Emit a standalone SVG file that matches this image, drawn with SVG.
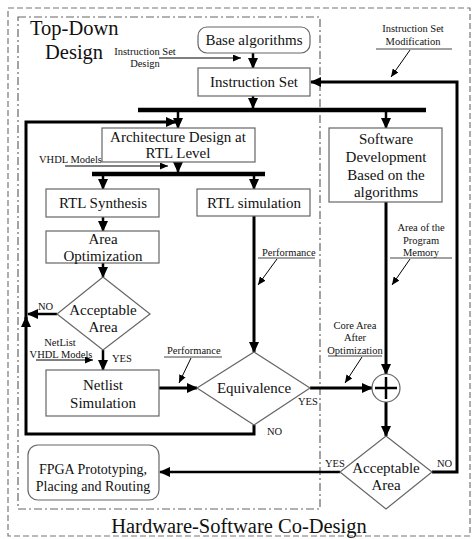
<svg xmlns="http://www.w3.org/2000/svg" width="474" height="539" viewBox="0 0 474 539">
<defs>
<style>
text{font-family:"Liberation Serif","Times New Roman",serif;fill:#111}
.box{fill:#fff;stroke:#666;stroke-width:1.2}
.t15{font-size:15px;text-anchor:middle}
.t14{font-size:14px;text-anchor:middle}
.big{font-size:20.5px}
.sm{font-size:10.5px}
.smc{font-size:10.5px;text-anchor:middle}
.thick{fill:none;stroke:#000;stroke-width:3}
.med{fill:none;stroke:#000;stroke-width:2.5}
.thin{fill:none;stroke:#000;stroke-width:1}
.ul{fill:none;stroke:#444;stroke-width:1}
.bus{fill:none;stroke:#000;stroke-width:4.5}
</style>
<marker id="ah" markerUnits="userSpaceOnUse" markerWidth="11" markerHeight="10" refX="10" refY="5" orient="auto"><path d="M0,0 L11,5 L0,10 z" fill="#000"/></marker>
<marker id="as" markerUnits="userSpaceOnUse" markerWidth="8" markerHeight="7" refX="8" refY="3.5" orient="auto"><path d="M0,0 L8,3.5 L0,7 z" fill="#000"/></marker>
</defs>
<rect x="8" y="8" width="462" height="528" fill="none" stroke="#777" stroke-width="1.2" stroke-dasharray="6 3"/>
<rect x="18" y="17" width="302" height="492" fill="none" stroke="#666" stroke-width="1.2" stroke-dasharray="8 3 2 3"/>
<text class="big" x="30" y="35">Top-Down</text>
<text class="big" x="45" y="59">Design</text>
<text class="big" x="239" y="533" text-anchor="middle">Hardware-Software Co-Design</text>

<g id="connectors">
<path class="bus" d="M138,110 H426"/>
<path class="bus" d="M92,174 H265"/>
<path class="med" d="M253,53 V68" marker-end="url(#ah)"/>
<path class="med" d="M253,96 V108" marker-end="url(#ah)"/>
<path class="med" d="M386,112 V128" marker-end="url(#ah)"/>
<path class="med" d="M178,112 V128" marker-end="url(#ah)"/>
<path class="med" d="M178,162 V172" marker-end="url(#ah)"/>
<path class="med" d="M103,176 V189" marker-end="url(#ah)"/>
<path class="med" d="M254,176 V189" marker-end="url(#ah)"/>
<path class="med" d="M103,217 V231" marker-end="url(#ah)"/>
<path class="med" d="M103,263 V277" marker-end="url(#ah)"/>
<path class="med" d="M103,350 V370" marker-end="url(#ah)"/>
<path class="med" d="M57,314 H28" marker-end="url(#ah)"/>
<path class="thick" d="M254,425 V434 H26 V317" marker-end="url(#ah)"/>
<path class="thick" d="M26,319 V122 H176" marker-end="url(#ah)"/>
<path class="thick" d="M432,472 H457 V82 H311" marker-end="url(#ah)"/>
<path class="thick" d="M254,216 V352" marker-end="url(#ah)"/>
<path class="thick" d="M386,202 V374" marker-end="url(#ah)"/>
<path class="thick" d="M159,388 H197" marker-end="url(#ah)"/>
<path class="thick" d="M310,388 H372" marker-end="url(#ah)"/>
<path class="thick" d="M386,402 V436" marker-end="url(#ah)"/>
<path class="med" d="M340,472 H160" marker-end="url(#ah)"/>
<path class="thin" d="M159,58 H241" marker-end="url(#as)"/>
<path class="ul" d="M376,49 H452"/>
<path class="thin" d="M410,50 L391,77" marker-end="url(#as)"/>
<path class="thin" d="M65,166 H168" marker-end="url(#as)"/>
<path class="thin" d="M36,360 H93" marker-end="url(#as)"/>
<path class="ul" d="M164,357 H222"/>
<path class="thin" d="M191,358 L179,383" marker-end="url(#as)"/>
<path class="ul" d="M258,258 H315"/>
<path class="thin" d="M277,259 L258,285" marker-end="url(#as)"/>
<path class="ul" d="M328,356 H382"/>
<path class="thin" d="M362,357 L345,383" marker-end="url(#as)"/>
<path class="ul" d="M390,258 H452"/>
<path class="thin" d="M410,259 L392,285" marker-end="url(#as)"/>
</g>

<g id="labels">
<text class="smc" x="145" y="55">Instruction Set</text>
<text class="smc" x="145" y="67">Design</text>
<text class="smc" x="413" y="32">Instruction Set</text>
<text class="smc" x="413" y="45">Modification</text>
<text class="sm" x="39" y="163">VHDL Models</text>
<text class="smc" x="60" y="346">NetList</text>
<text class="smc" x="61" y="358">VHDL Models</text>
<text class="sm" x="112" y="362">YES</text>
<text class="sm" x="38" y="310">NO</text>
<text class="sm" x="167" y="354">Performance</text>
<text class="sm" x="262" y="256">Performance</text>
<text class="smc" x="355" y="329">Core Area</text>
<text class="smc" x="355" y="341">After</text>
<text class="smc" x="355" y="354">Optimization</text>
<text class="smc" x="421" y="231">Area of the</text>
<text class="smc" x="421" y="244">Program</text>
<text class="smc" x="421" y="256">Memory</text>
<text class="sm" x="298" y="405" font-size="9.5">YES</text>
<text class="sm" x="267" y="435" font-size="9.5">NO</text>
<text class="sm" x="325" y="467">YES</text>
<text class="sm" x="437" y="467">NO</text>
</g>

<g id="base-algorithms"><rect class="box" x="198" y="27" width="112" height="26" rx="9"/><text class="t15" x="254" y="45">Base algorithms</text></g>
<g id="instruction-set"><rect class="box" x="198" y="68" width="112" height="28"/><text class="t15" x="254" y="87">Instruction Set</text></g>
<g id="software-development"><rect class="box" x="329" y="128" width="113" height="74"/><text class="t15" x="386" y="144">Software</text><text class="t15" x="386" y="162">Development</text><text class="t15" x="386" y="180">Based on the</text><text class="t15" x="386" y="197">algorithms</text></g>
<g id="architecture-design"><rect class="box" x="102" y="128" width="153" height="34"/><text class="t15" x="178" y="142">Architecture Design at</text><text class="t15" x="178" y="158">RTL Level</text></g>
<g id="rtl-synthesis"><rect class="box" x="46" y="189" width="113" height="28"/><text class="t15" x="103" y="208">RTL Synthesis</text></g>
<g id="rtl-simulation"><rect class="box" x="197" y="189" width="113" height="27"/><text class="t15" x="254" y="208">RTL simulation</text></g>
<g id="area-optimization"><rect class="box" x="46" y="231" width="113" height="32"/><text class="t15" x="103" y="244">Area</text><text class="t15" x="103" y="261">Optimization</text></g>
<g id="acceptable-area-1"><path class="box" d="M103,277 L150,314 L103,350 L57,314 z"/><text class="t15" x="103" y="315">Acceptable</text><text class="t15" x="103" y="332">Area</text></g>
<g id="netlist-simulation"><rect class="box" x="46" y="370" width="113" height="46"/><text class="t15" x="103" y="390">Netlist</text><text class="t15" x="103" y="408">Simulation</text></g>
<g id="equivalence"><path class="box" d="M254,352 L310,388 L254,425 L197,388 z"/><text class="t15" x="254" y="393">Equivalence</text></g>
<g id="sum"><circle cx="386" cy="388" r="14" fill="#fff" stroke="#666" stroke-width="1.2"/><path d="M375,388 H397 M386,377 V399" stroke="#000" stroke-width="2.5"/></g>
<g id="acceptable-area-2"><path class="box" d="M386,436 L432,472 L386,509 L340,472 z"/><text class="t15" x="386" y="473">Acceptable</text><text class="t15" x="386" y="490">Area</text></g>
<g id="fpga"><rect class="box" x="28" y="445" width="131" height="55" rx="10"/><text class="t14" x="93" y="474">FPGA Prototyping,</text><text class="t14" x="93" y="491">Placing and Routing</text></g>
</svg>
